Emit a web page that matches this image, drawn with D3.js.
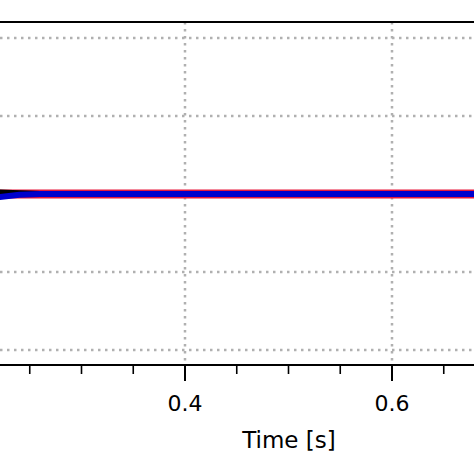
<!DOCTYPE html><html><head><script src="https://cdn.jsdelivr.net/npm/d3@7"></script>
<style>body{margin:0}</style></head><body><svg width="474" height="474"></svg><script>
const time=[0.2,0.22,0.24,0.26,0.3,0.4,0.5,0.6,0.7];
const ref=[0,0,0,0,0,0,0,0,0];
const blue=[-0.03,-0.02,-0.005,0,0,0,0,0,0];
const black=[0.02,0.01,0.005,0,0,0,0,0,0];
const xTicks=[0.4,0.6];
const xMinor=[0.25,0.3,0.35,0.45,0.5,0.55,0.65];
const yGrid=[-1,-0.5,0,0.5,1];
(function(){
const svg=d3.select("svg");
const x=d3.scaleLinear().domain([0.2,0.6]).range([-22,392]);
const y=d3.scaleLinear().domain([-1,1]).range([350,38]);
const topY=22,bot=365;
svg.selectAll(".hg").data(yGrid).join("line").attr("x1",0).attr("x2",474).attr("y1",y).attr("y2",y)
 .attr("stroke","#b0b0b0").attr("stroke-width",2.5).attr("stroke-dasharray","2.5,4.5");
svg.selectAll(".vg").data(xTicks).join("line").attr("x1",x).attr("x2",x).attr("y1",topY).attr("y2",bot)
 .attr("stroke","#b0b0b0").attr("stroke-width",2.5).attr("stroke-dasharray","2.5,4.5");
const ln=d3.line().x((d,i)=>x(time[i])).y(d=>y(d));
svg.append("path").attr("d",ln(ref)).attr("fill","none").attr("stroke","#e8173a").attr("stroke-width",9);
svg.append("path").attr("d",ln(black)).attr("fill","none").attr("stroke","#000").attr("stroke-width",6);
svg.append("path").attr("d",ln(blue)).attr("fill","none").attr("stroke","#0000cc").attr("stroke-width",6);
svg.append("line").attr("x1",0).attr("x2",474).attr("y1",topY).attr("y2",topY).attr("stroke","#000").attr("stroke-width",2);
const ax=svg.append("g").attr("transform",`translate(0,${bot})`);
ax.append("line").attr("x1",0).attr("x2",474).attr("stroke","#000").attr("stroke-width",2);
ax.selectAll(".mj").data(xTicks).join("line").attr("x1",x).attr("x2",x).attr("y2",16).attr("stroke","#000").attr("stroke-width",2);
ax.selectAll(".mn").data(xMinor).join("line").attr("x1",x).attr("x2",x).attr("y2",9).attr("stroke","#000").attr("stroke-width",1.6);
ax.selectAll("text").data(xTicks).join("text").attr("x",x).attr("y",46).attr("text-anchor","middle")
 .attr("font-family","DejaVu Sans").attr("font-size",22).text(d=>d.toFixed(1));
svg.append("text").attr("x",289).attr("y",448).attr("text-anchor","middle").attr("font-family","DejaVu Sans").attr("font-size",23).text("Time [s]");
})();
</script></body></html>
